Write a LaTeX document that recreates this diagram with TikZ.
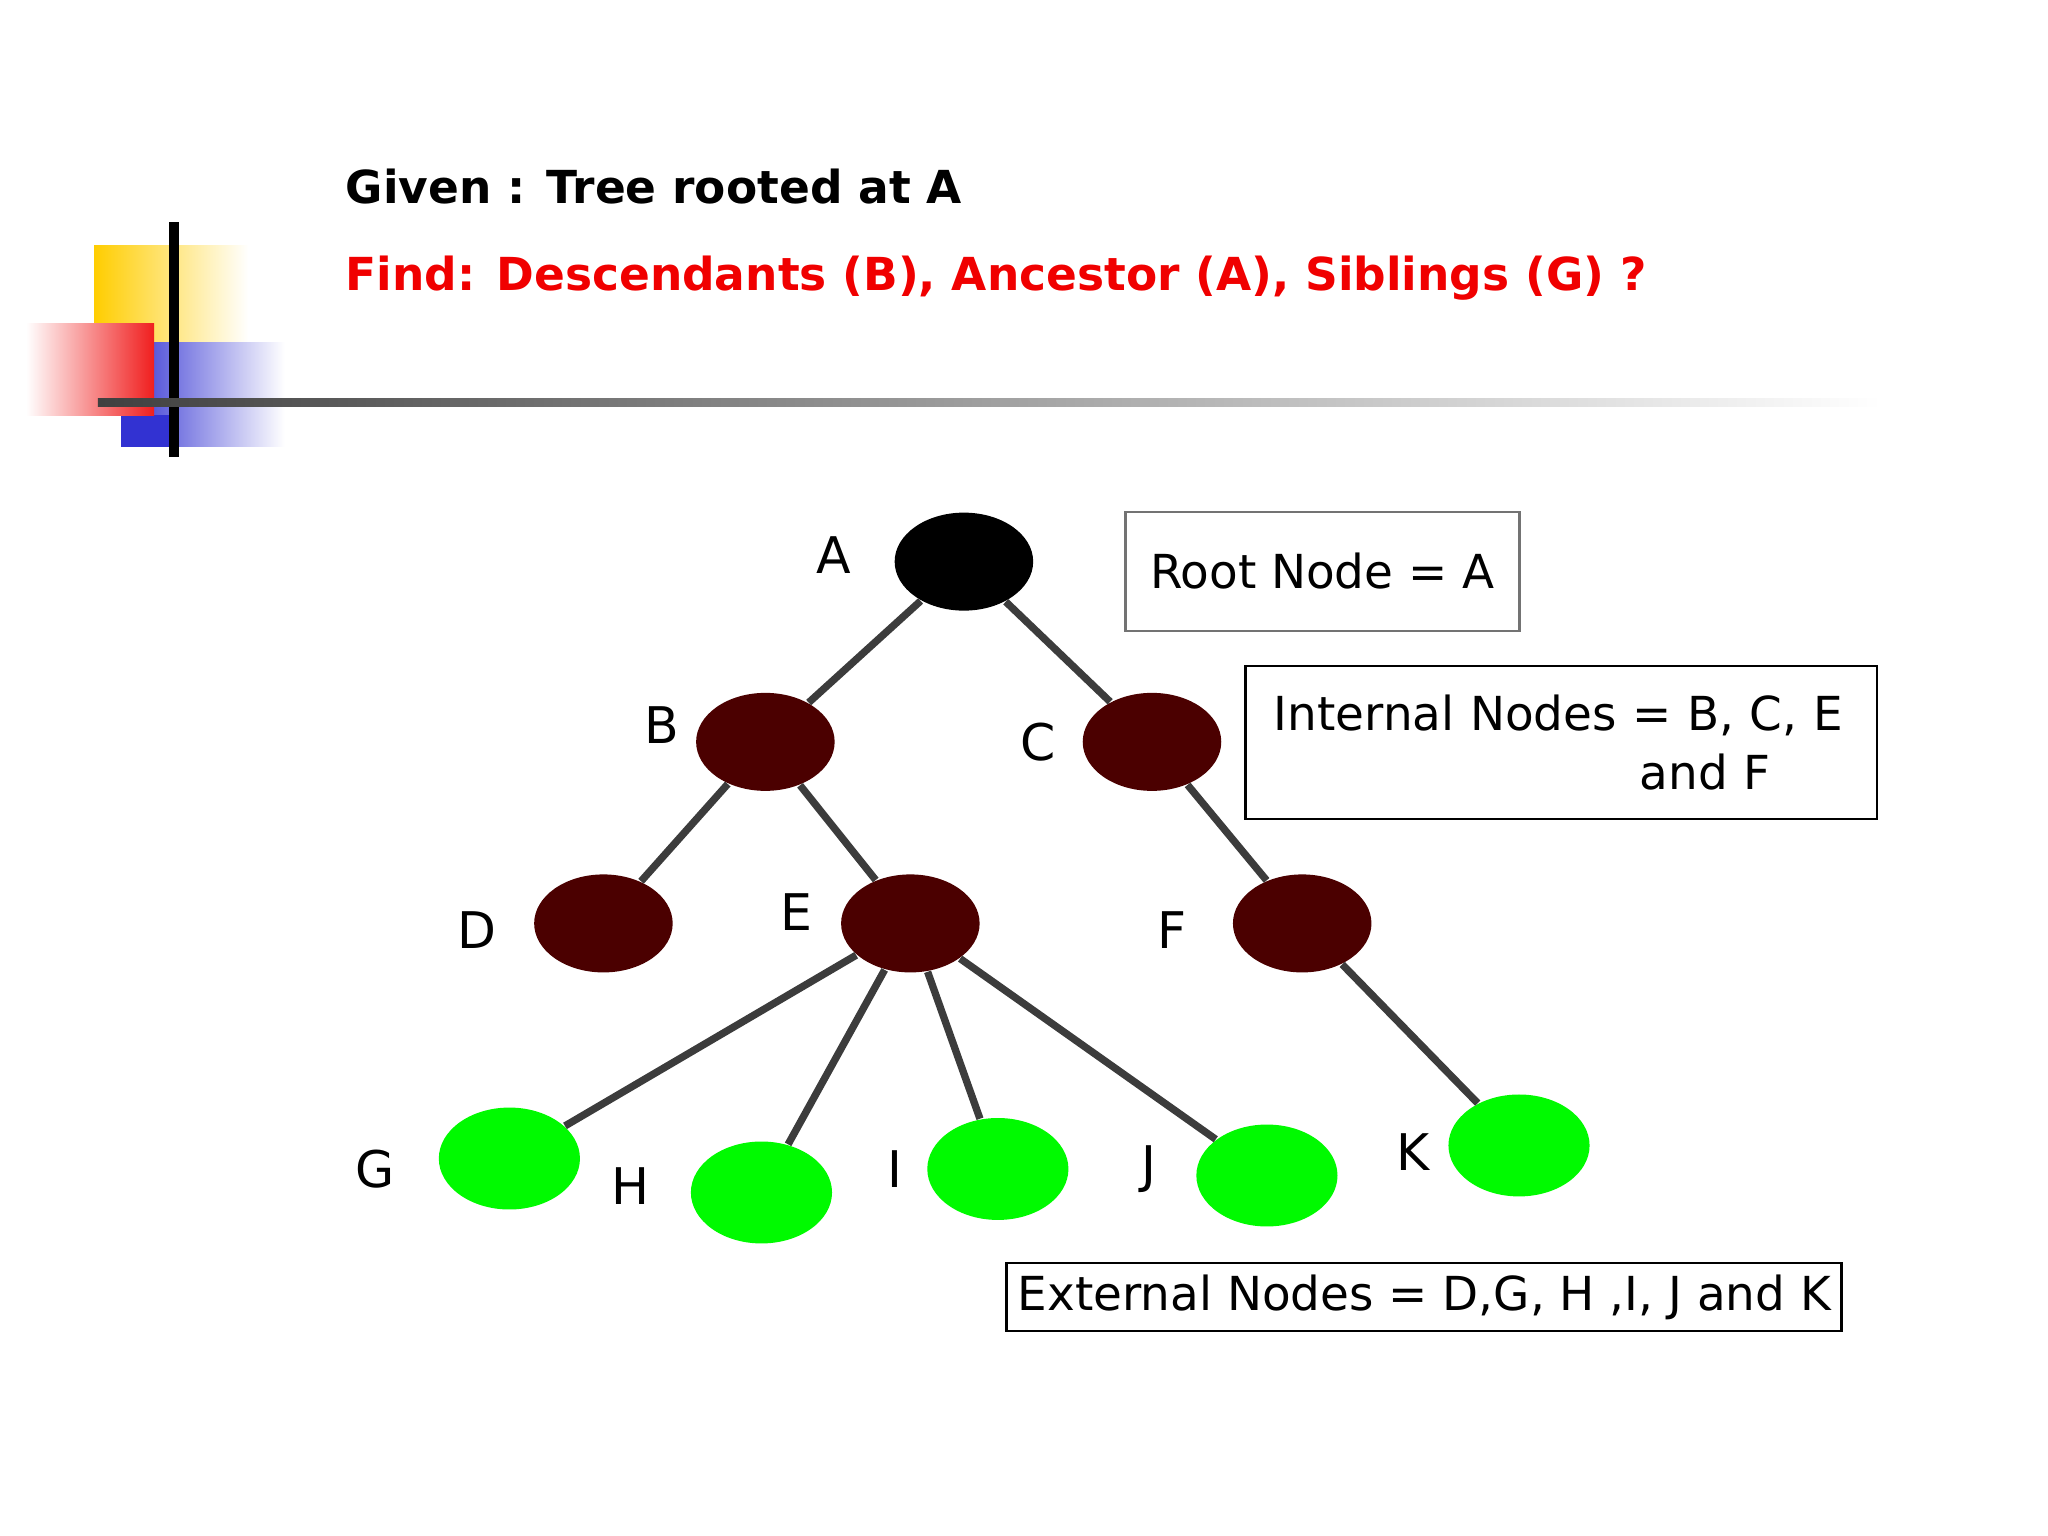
\documentclass[tikz,border=0pt]{standalone}
\usepackage{fontspec}
\setmainfont{DejaVu Sans}
\usetikzlibrary{shapes.geometric}
\definecolor{cyel}{RGB}{255,205,0}
\definecolor{cblu}{RGB}{50,50,210}
\definecolor{cred}{RGB}{240,30,30}
\definecolor{tred}{RGB}{240,0,0}
\definecolor{brn}{RGB}{75,0,0}
\definecolor{grn}{RGB}{0,250,0}
\definecolor{edg}{RGB}{60,60,60}
\begin{document}
\begin{tikzpicture}[x=0.01cm,y=-0.01cm,
  tn/.style={ellipse,minimum width=1.06cm,minimum height=0.75cm,inner sep=0pt},
  root/.style={tn,fill=black},
  inner/.style={tn,fill=brn},
  leaf/.style={tn,fill=grn,minimum width=1.08cm,minimum height=0.78cm},
  edge/.style={draw=edg,line width=1.6pt},
  lab/.style={font=\fontsize{11}{13}\selectfont},
  box/.style={draw,line width=0.6pt,font=\fontsize{10.2}{13}\selectfont}]
\useasboundingbox (0,0) rectangle (1568,1176);
% decoration
\shade[left color=cyel,right color=white] (72,188) rectangle (190,262);
\shade[left color=cblu,right color=white] (93,262) rectangle (218,342);
\fill[cblu] (93,318) rectangle (133,342);
\shade[left color=white,right color=cred] (20,248) rectangle (118,318);
\draw[line width=2.2pt] (133,170) -- (133,350);
\shade[left color=black!75,right color=white] (75,305) rectangle (1440,311);
% titles
\node[anchor=west,inner sep=0pt,font=\bfseries\fontsize{9.9}{12}\selectfont] (t1) at (264,143) {Given : Tree rooted at A};
\node[anchor=west,inner sep=0pt,font=\bfseries\fontsize{9.9}{12}\selectfont,text=tred] (t2) at (264,213) {Find: Descendants (B), Ancestor (A), Siblings (G) ?};
% nodes
\node[root] (A) at (738,430) {};
\node[inner] (B) at (586,568) {};
\node[inner] (C) at (882,568) {};
\node[inner] (D) at (462,707) {};
\node[inner] (E) at (697,707) {};
\node[inner] (F) at (997,707) {};
\node[leaf] (G) at (390,887) {};
\node[leaf] (H) at (583,913) {};
\node[leaf] (I) at (764,895) {};
\node[leaf] (J) at (970,900) {};
\node[leaf] (K) at (1163,877) {};
\foreach \a/\b in {A/B,A/C,B/D,B/E,C/F,E/G,E/H,E/I,E/J,F/K}
  \draw[edge] (\a) -- (\b);
% labels
\foreach \n/\x/\y in {A/638/425,B/507/555,C/795/568,D/365/712,E/610/698,F/897/712,G/287/895,H/483/908,I/685/895,J/880/895,K/1082/882}
  \node[lab] (l\n) at (\x,\y) {\n};
% boxes
\node[box,draw=black!55,minimum width=3.01cm,minimum height=0.91cm] (rb) at (1012.5,437.5) {Root Node = A};
\node[box,minimum width=4.83cm,minimum height=1.17cm,text width=4.4cm,align=left] (ib) at (1195.5,568.5) {Internal Nodes = B, C, E\\\hspace*{2.8cm}and F};
\node[box,minimum width=6.39cm,minimum height=0.52cm,inner sep=1pt] (eb) at (1090.5,993) {External Nodes = D,G, H ,I, J and K};
\end{tikzpicture}
\end{document}
